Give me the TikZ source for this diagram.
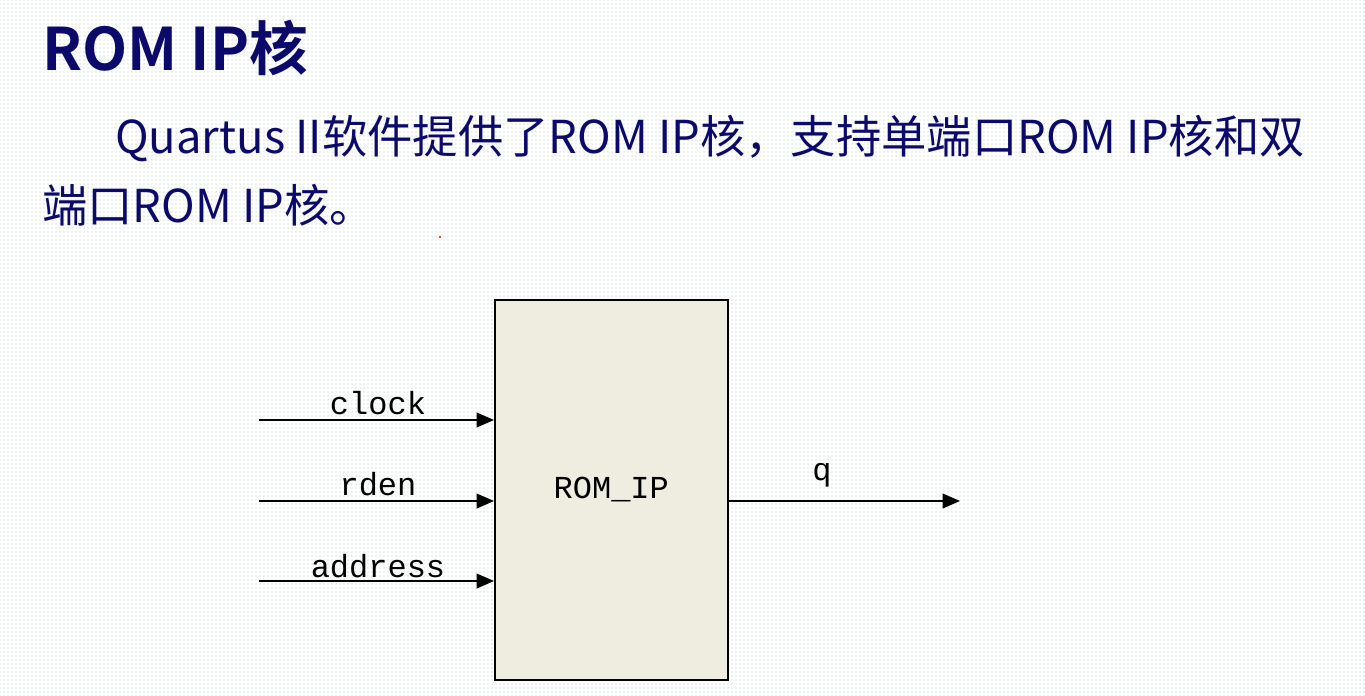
\documentclass[tikz,border=0pt]{standalone}
\usepackage{fontspec}
\setmainfont{Liberation Sans}
\newfontfamily\cjk{Noto Sans CJK SC}
\newfontfamily\cjkb{Noto Sans CJK SC}[BoldFont={* Bold}]
\newfontfamily\monof{Liberation Mono}
\usetikzlibrary{arrows.meta,patterns}
\definecolor{navy}{HTML}{0B0A6B}
\definecolor{boxfill}{HTML}{EEEDE0}
\definecolor{dotc}{HTML}{3A8A7A}
\tikzset{
  sig/.style={draw=black, line width=1.2pt, -{Triangle[length=13pt,width=11pt]}},
  lbl/.style={font=\monof\fontsize{24}{26}\selectfont, anchor=base, inner sep=0pt},
  body/.style={font=\cjk\fontsize{34}{36}\selectfont, text=navy, anchor=base west, inner sep=0pt},
}
\begin{document}
\begin{tikzpicture}[x=0.75pt,y=-0.75pt]
\useasboundingbox (0,0) rectangle (1365,696);
\fill[white] (0,0) rectangle (1365,696);
\fill[pattern=dots, pattern color=dotc!45] (0,0) rectangle (1365,696);
\node[font=\cjkb\bfseries\fontsize{44}{46}\selectfont, text=navy, anchor=base west, inner sep=0pt] (title) at (42,70) {ROM IP核};
\node[body] (l1) at (115,153) {Quartus II软件提供了ROM IP核，支持单端口ROM IP核和双};
\node[body] (l2) at (42,222) {端口ROM IP核。};
\fill[red] (440,237) circle (1.2);
\node[draw=black, line width=1.2pt, fill=boxfill, minimum width=233*0.75pt, minimum height=380*0.75pt, inner sep=0pt, anchor=north west, font=\monof\fontsize{24}{26}\selectfont] (rom) at (494,299) {ROM\_IP};
\coordinate (c1) at (259,420);
\coordinate (c2) at (259,501);
\coordinate (c3) at (259,581);
\coordinate (qo) at (960,501);
\draw[sig] (c1) -- (c1 -| rom.west);
\draw[sig] (c2) -- (c2 -| rom.west);
\draw[sig] (c3) -- (c3 -| rom.west);
\draw[sig] (rom.east |- qo) -- (qo);
\node[lbl] (lc) at (378,414) {clock};
\node[lbl] (lr) at (378,495) {rden};
\node[lbl] (la) at (378,577) {address};
\node[lbl] (lq) at (822,480) {q};
\end{tikzpicture}
\end{document}
